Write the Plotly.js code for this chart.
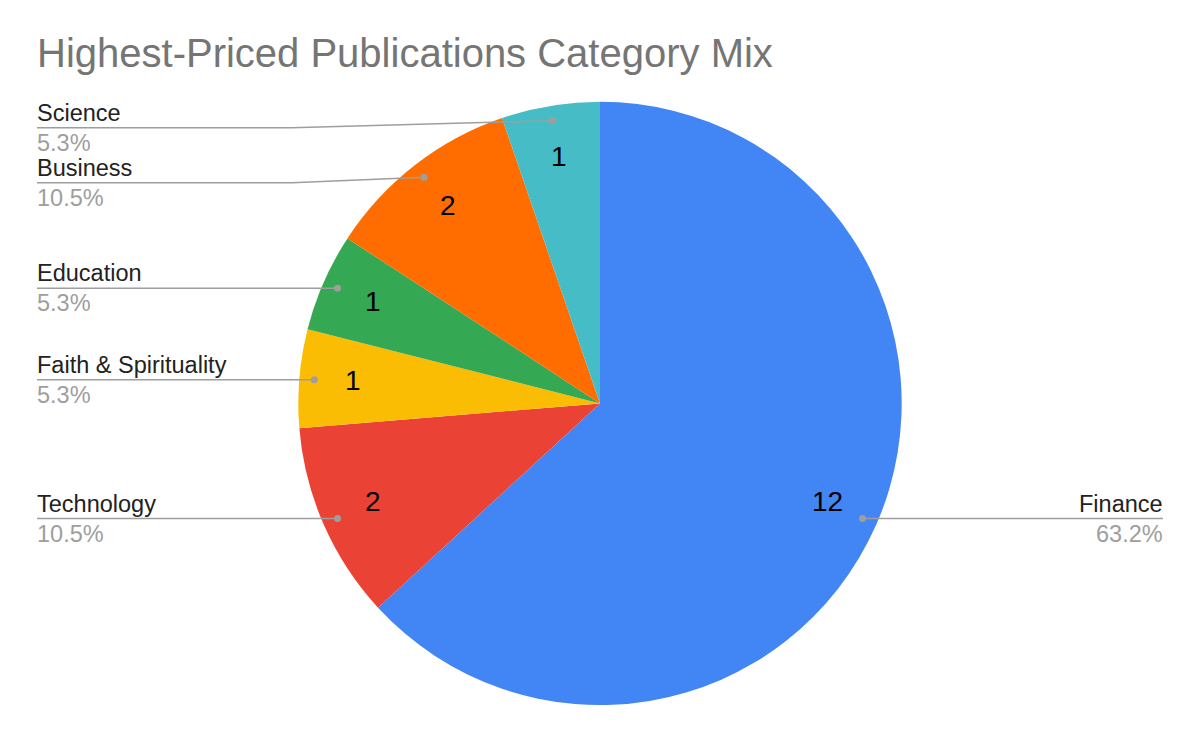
<!DOCTYPE html>
<html>
<head>
<meta charset="utf-8">
<script src="https://cdn.plot.ly/plotly-3.0.1.min.js"></script>
<style>
  html, body { margin: 0; padding: 0; background: #fff; }
  #chart { width: 1200px; height: 742px; }
</style>
</head>
<body>
<div id="chart"></div>
<script>
const CATEGORIES = ['Finance', 'Technology', 'Faith & Spirituality', 'Education', 'Business', 'Science'];
const COUNTS = [12, 2, 1, 1, 2, 1];
const COLORS = ['#4285F4', '#EA4335', '#FBBC04', '#34A853', '#FF6D01', '#46BDC6'];
const TITLE = 'Highest-Priced Publications Category Mix';

const W = 1200, H = 742;
const CX = 600, CY = 403.4, R = 301.7;
const FONT = 'Liberation Sans, Arial, sans-serif';
const LEADER_COLOR = '#9e9e9e';
const LEFT_X = 37, RIGHT_X = 1163, ELBOW_X = 292;
const LEFT_TOP = 127.7, LABEL_GAP = 55;
const TEXT_NUDGE = 2;

// paper coordinates from pixels (margins are zero)
function px(x) { return x / W; }
function py(y) { return 1 - y / H; }

function polar(theta, r) {
  return [CX + r * Math.sin(theta), CY - r * Math.cos(theta)];
}

function buildSlices() {
  const total = COUNTS.reduce((a, b) => a + b, 0);
  let slices = [];
  let acc = 0;
  for (let i = 0; i < COUNTS.length; i++) {
    const mid = (acc + COUNTS[i] / 2) / total * 2 * Math.PI;
    acc += COUNTS[i];
    const [dx, dy] = polar(mid, R * 0.95);
    slices.push({
      label: CATEGORIES[i],
      count: COUNTS[i],
      pct: (COUNTS[i] / total * 100).toFixed(1) + '%',
      mid: mid,
      dotX: dx,
      dotY: dy,
      left: Math.sin(mid) < 0,
    });
  }
  // push left labels down so they don't collide
  let left = slices.filter(s => s.left).sort((a, b) => a.dotY - b.dotY);
  let prev = LEFT_TOP - LABEL_GAP;
  for (let s of left) {
    s.lineY = Math.max(s.dotY, prev + LABEL_GAP);
    prev = s.lineY;
  }
  for (let s of slices) {
    if (!s.left) s.lineY = s.dotY;
  }
  return slices;
}

function makePlot() {
  const slices = buildSlices();
  let shapes = [];
  let annotations = [];

  for (let s of slices) {
    const endX = s.left ? LEFT_X : RIGHT_X;
    if (Math.abs(s.lineY - s.dotY) > 0.5) {
      shapes.push({type: 'line', xref: 'paper', yref: 'paper',
        x0: px(endX), y0: py(s.lineY), x1: px(ELBOW_X), y1: py(s.lineY),
        line: {color: LEADER_COLOR, width: 1.5}});
      shapes.push({type: 'line', xref: 'paper', yref: 'paper',
        x0: px(ELBOW_X), y0: py(s.lineY), x1: px(s.dotX), y1: py(s.dotY),
        line: {color: LEADER_COLOR, width: 1.5}});
    } else {
      shapes.push({type: 'line', xref: 'paper', yref: 'paper',
        x0: px(endX), y0: py(s.lineY), x1: px(s.dotX), y1: py(s.lineY),
        line: {color: LEADER_COLOR, width: 1.5}});
    }
    shapes.push({type: 'circle', xref: 'paper', yref: 'paper',
      x0: px(s.dotX - 3.5), x1: px(s.dotX + 3.5), y0: py(s.dotY + 3.5), y1: py(s.dotY - 3.5),
      fillcolor: LEADER_COLOR, line: {width: 0}});

    const anchor = s.left ? 'left' : 'right';
    const textX = s.left ? endX - TEXT_NUDGE : endX + TEXT_NUDGE;
    annotations.push({xref: 'paper', yref: 'paper', x: px(textX), y: py(s.lineY),
      xanchor: anchor, yanchor: 'bottom', showarrow: false, text: s.label,
      font: {family: FONT, size: 23.5, color: '#222222'}});
    annotations.push({xref: 'paper', yref: 'paper', x: px(textX), y: py(s.lineY),
      xanchor: anchor, yanchor: 'top', showarrow: false, text: s.pct,
      font: {family: FONT, size: 23.5, color: '#9e9e9e'}});

    const [vx, vy] = polar(s.mid, R * 0.822);
    annotations.push({xref: 'paper', yref: 'paper', x: px(vx), y: py(vy - 2),
      xanchor: 'center', yanchor: 'middle', showarrow: false, text: String(s.count),
      font: {family: FONT, size: 28, color: '#000000'}});
  }

  const pie = {
    type: 'pie',
    labels: CATEGORIES,
    values: COUNTS,
    marker: {colors: COLORS, line: {width: 0}},
    sort: false,
    direction: 'clockwise',
    rotation: 0,
    textinfo: 'none',
    hoverinfo: 'skip',
    showlegend: false,
    domain: {x: [px(CX - R), px(CX + R)], y: [py(CY + R), py(CY - R)]},
  };

  const layout = {
    width: W,
    height: H,
    margin: {t: 0, b: 0, l: 0, r: 0},
    paper_bgcolor: '#ffffff',
    showlegend: false,
    title: {
      text: TITLE,
      x: px(37), xanchor: 'left', xref: 'paper',
      y: py(53), yanchor: 'middle', yref: 'paper',
      font: {family: FONT, size: 40, color: '#757575'},
    },
    shapes: shapes,
    annotations: annotations,
  };

  Plotly.newPlot('chart', [pie], layout, {staticPlot: true, displayModeBar: false});
}

makePlot();
</script>
</body>
</html>
